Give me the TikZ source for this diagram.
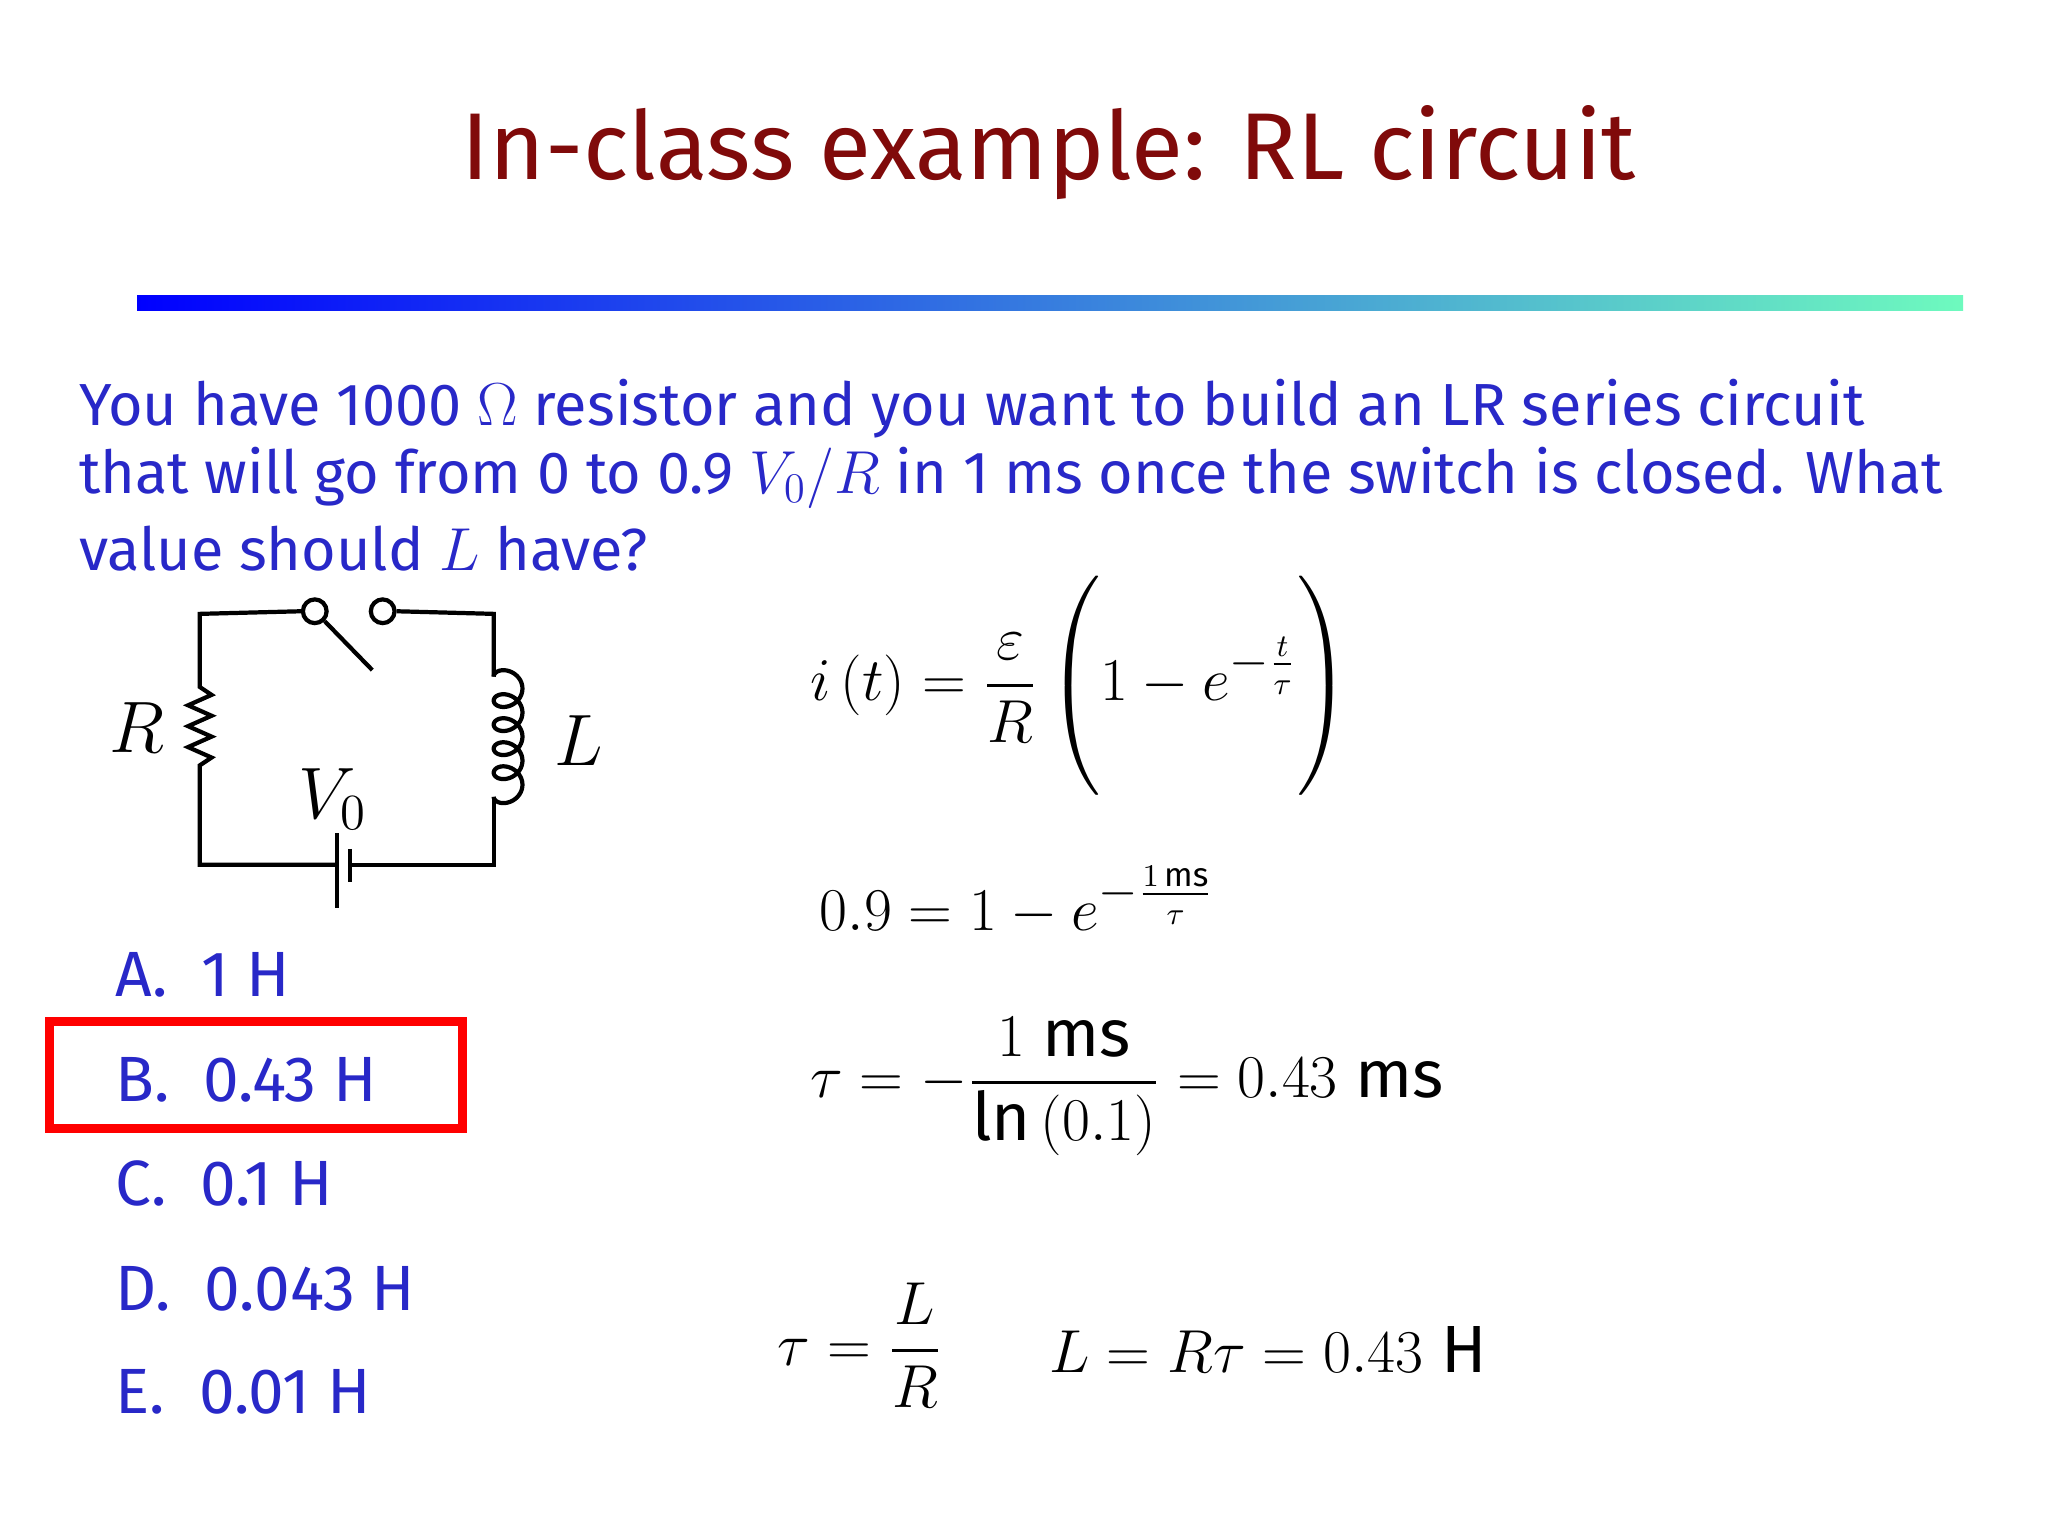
\documentclass[tikz,border=0pt]{standalone}
\usepackage{amsmath}
\usepackage{fontspec}
\setmainfont{Fira Sans}
\definecolor{titlered}{RGB}{128,10,10}
\definecolor{bodyblue}{RGB}{40,40,200}
\begin{document}
\begin{tikzpicture}[x=0.01306cm,y=-0.01306cm,
  wire/.style={line width=1.2pt,black},
  body/.style={anchor=base west,text=bodyblue,font=\fontsize{16.9}{20}\selectfont,inner sep=0},
  opt/.style={anchor=base west,text=bodyblue,font=\fontsize{18.2}{22}\selectfont,inner sep=0},
  eq/.style={anchor=west,font=\fontsize{19}{23}\selectfont,inner sep=0}]
\useasboundingbox[fill=white] (0,0) rectangle (1568,1176);
\node[text=titlered,font=\fontsize{27}{32}\selectfont] (title) at (803,117) {In-class example: RL circuit};
\shade[left color=blue,middle color=cyan!60,right color={rgb,255:red,110;green,250;blue,190}] (105,226) rectangle (1503,238);
\node[body] (l1) at (60,326) {You have 1000 \(\Omega\) resistor and you want to build an LR series circuit};
\node[body] (l2) at (60,378) {that will go from 0 to 0.9 \(V_0/R\) in 1 ms once the switch is closed. What};
\node[body] (l3) at (60,437) {value should \(L\) have?};
% circuit
\coordinate (tl) at (153,470); \coordinate (tr) at (378,470);
\coordinate (bl) at (153,662); \coordinate (br) at (378,662);
\node[circle,draw,line width=1.2pt,inner sep=0,minimum size=6.75pt] (s1) at (241,468) {};
\node[circle,draw,line width=1.2pt,inner sep=0,minimum size=6.75pt] (s2) at (293,468) {};
\draw[wire] (s1.west) -- (tl) -- (153,520) -- ++(0,6) -- ++(9,6) -- ++(-18,8) -- ++(18,8) -- ++(-18,8) -- ++(18,8) -- ++(-18,8) -- ++(18,8) -- ++(-9,6) -- (153,598) -- (bl) -- (258,662);
\draw[wire] (s2.east) -- (tr) -- (378,518);
\draw[wire] plot[domain=0:1800,samples=240,variable=\t] ({389-11*cos(\t)},{518+\t/1800*92-9*sin(\t)});
\draw[wire] (378,610) -- (br) -- (268,662);
\draw[wire] (s1.south east) -- (285,513);
\draw[wire] (258,638) -- (258,695);
\draw[wire] (268,650) -- (268,675);
\node[font=\fontsize{21}{26}\selectfont] (R) at (105,557) {\(R\)};
\node[font=\fontsize{21}{26}\selectfont] (L) at (443,567) {\(L\)};
\node[font=\fontsize{21}{26}\selectfont] (V) at (255,612) {\(V_0\)};
% options
\node[opt] (A) at (88,763) {A.\ \ 1 H};
\node[opt] (B) at (88,843) {B.\ \ 0.43 H};
\node[opt] (C) at (88,923) {C.\ \ 0.1 H};
\node[opt] (D) at (88,1003) {D.\ \ 0.043 H};
\node[opt] (E) at (88,1082) {E.\ \ 0.01 H};
\draw[red,line width=2.6pt] (38,782) rectangle (354,864);
% equations
\node[eq] (e1) at (620,525) {\(i\left(t\right)=\dfrac{\varepsilon}{R}\left(1-e^{-\frac{t}{\tau}}\rule[-26pt]{0pt}{54pt}\right)\)};
\node[eq] (e2) at (627,690) {\(0.9=1-e^{-\frac{1\,\mathrm{ms}}{\tau}}\)};
\node[eq] (e3) at (620,832) {\(\tau=-\dfrac{1\ \mathrm{ms}}{\ln\left(0.1\right)}=0.43\ \mathrm{ms}\)};
\node[eq] (e4) at (595,1030) {\(\tau=\dfrac{L}{R}\)};
\node[eq] (e5) at (803,1033) {\(L=R\tau=0.43\ \mathrm{H}\)};
\end{tikzpicture}
\end{document}
